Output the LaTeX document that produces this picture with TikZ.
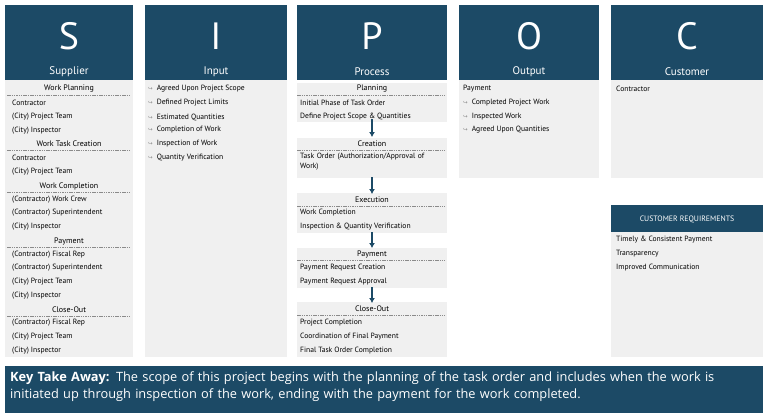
\documentclass[tikz,border=0pt]{standalone}
\usetikzlibrary{arrows.meta}
\usepackage{fontspec}
\setmainfont{PT Sans}
\newfontfamily\sym{DejaVu Sans}
\newfontfamily\kfont{Open Sans}
\definecolor{dk}{HTML}{1C4A66}
\definecolor{lg}{HTML}{F0F0F0}
\definecolor{ln}{HTML}{8A8A8A}
\begin{document}
\begin{tikzpicture}[x=1pt,y=-1pt,
 big/.style={text=white,font=\fontsize{38}{38}\selectfont},
 nm/.style={text=white,font=\fontsize{11}{12}\selectfont},
 t/.style={anchor=west,font=\fontsize{7.6}{9}\selectfont,inner sep=0},
 sec/.style={font=\fontsize{8}{9}\selectfont,inner sep=0},
 bl/.style={anchor=west,font=\fontsize{7.6}{9}\selectfont,inner sep=0},
 dsh/.style={draw=ln,line width=0.9pt,dash pattern=on 1.5pt off 0.8pt},
 arr/.style={-{Latex[length=5pt,width=6pt]},line width=1.6pt,draw=dk}]
\useasboundingbox (0,0) rectangle (768,418);
\fill[white] (0,0) rectangle (768,418);
\foreach \a/\b/\L/\N/\id in {5/133/S/Supplier/s,145/287/I/Input/i,297/447/P/Process/p,459/599/O/Output/o,611/763/C/Customer/c}{
 \fill[dk] (\a,5) rectangle (\b,80);
 \node[big] (L\id) at ({(\a+\b)/2},36) {\L};
 \node[nm] (N\id) at ({(\a+\b)/2},72) {\N};
}
\fill[lg] (5,80) rectangle (133,357);
\fill[lg] (145,80) rectangle (287,357);
\fill[lg] (459,80) rectangle (599,178);
\fill[lg] (611,80) rectangle (763,178);
\fill[dk] (611,205) rectangle (763,232);
\fill[lg] (611,232) rectangle (763,357);
\node[text=white,font=\fontsize{7.8}{9}\selectfont] (cr) at (687,219) {CUSTOMER REQUIREMENTS};
\foreach \y/\txt/\k in {89/Work Planning/a,144/Work Task Creation/b,186/Work Completion/c,241/Payment/d,310/Close-Out/e}{
 \node[sec] (ss\k) at (69,\y) {\txt};
 \draw[dsh] (7,\y+6) -- (131,\y+6);
}
\foreach \y/\txt [count=\n] in {103/Contractor,117/(City) Project Team,131/(City) Inspector,158/Contractor,172/(City) Project Team,200/(Contractor) Work Crew,213/(Contractor) Superintendent,227/(City) Inspector,255/(Contractor) Fiscal Rep,268/(Contractor) Superintendent,282/(City) Project Team,296/(City) Inspector,323/(Contractor) Fiscal Rep,337/(City) Project Team,351/(City) Inspector}
 \node[t] (s\n) at (12,\y) {\txt};
\foreach \y/\txt [count=\n] in {89/Agreed Upon Project Scope,103/Defined Project Limits,117/Estimated Quantities,130/Completion of Work,144/Inspection of Work,158/Quantity Verification}
 \node[bl] (i\n) at (148,\y) {{\sym\fontsize{5.5}{6}\selectfont\color{ln}↪}\hspace{4pt}\txt};
\foreach \y/\txt [count=\n] in {89/Payment,103/Completed Project Work,117/Inspected Work,130/Agreed Upon Quantities}
 \node[bl] (o\n) at (463,\y) {\ifnum\n>1 {\sym\fontsize{5.5}{6}\selectfont\color{ln}↪}\hspace{4pt}\fi\txt};
\node[t] (c1) at (616,89) {Contractor};
\foreach \y/\txt [count=\n] in {240/Timely \& Consistent Payment,254/Transparency,268/Improved Communication}
 \node[t] (cr\n) at (616,\y) {\txt};
\foreach \a/\b in {83/122,138/178,193/233,248/288,302/357} \fill[lg] (297,\a) rectangle (447,\b);
\foreach \y/\txt/\k in {89/Planning/a,144/Creation/b,200/Execution/c,254/Payment/d,309/Close-Out/e}{
 \node[sec] (ps\k) at (372,\y) {\txt};
 \draw[dsh] (297,\y+6) -- (445,\y+6);
}
\foreach \y/\txt [count=\n] in {103/Initial Phase of Task Order,117/Define Project Scope \& Quantities,213/Work Completion,227/Inspection \& Quantity Verification,268/Payment Request Creation,282/Payment Request Approval,323/Project Completion,337/Coordination of Final Payment,351/Final Task Order Completion}
 \node[t] (p\n) at (300,\y) {\txt};
\node[t,anchor=north west,align=left,text width=142pt,font=\fontsize{7.6}{10}\selectfont] (pt) at (300,153) {Task Order (Authorization/Approval of Work)};
\coordinate (a1) at (372,119); \coordinate (b1) at (372,137);
\coordinate (a2) at (372,177); \coordinate (b2) at (372,194);
\coordinate (a3) at (372,232); \coordinate (b3) at (372,248);
\coordinate (a4) at (372,287); \coordinate (b4) at (372,303);
\foreach \i in {1,...,4} \draw[arr] (a\i) -- (b\i);
\fill[dk] (5,366) rectangle (763,413);
\node[anchor=north west,text=white,text width=754pt,align=left,inner sep=0,font=\kfont\fontsize{12.8}{17}\selectfont] (kt) at (10,371) {\textbf{Key Take Away:} The scope of this project begins with the planning of the task order and includes when the work is\\ initiated up through inspection of the work, ending with the payment for the work completed.};
\end{tikzpicture}
\end{document}
